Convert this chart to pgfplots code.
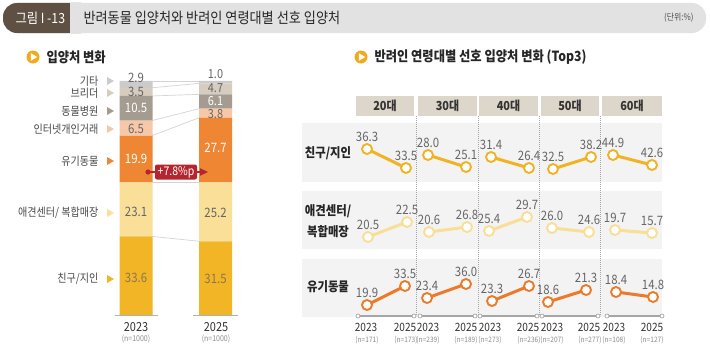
\documentclass[border=0pt]{standalone}
\usepackage{pgfplots}
\pgfplotsset{compat=1.18}
\usepackage{fontspec}
\setmainfont{Noto Sans CJK KR}[FakeStretch=0.88]
\usetikzlibrary{arrows.meta}
\pgfkeys{/pgf/number format/assume math mode=true}

\definecolor{cFriend}{HTML}{F2B526}
\definecolor{cCenter}{HTML}{F9DF98}
\definecolor{cStray}{HTML}{EE8633}
\definecolor{cNet}{HTML}{F7C8A7}
\definecolor{cHosp}{HTML}{A59C91}
\definecolor{cBreed}{HTML}{D6CDBE}
\definecolor{cEtc}{HTML}{CBCBCB}
\definecolor{lF}{HTML}{F0B323}
\definecolor{lC}{HTML}{F9DE96}
\definecolor{lS}{HTML}{EB7B2B}
\definecolor{hdrDark}{HTML}{5E5043}
\definecolor{hdrLight}{HTML}{E2E2E2}
\definecolor{colHead}{HTML}{DDD6CA}
\definecolor{band}{HTML}{F3F3F3}
\definecolor{badge}{HTML}{B52530}
\definecolor{iconc}{HTML}{F1A91D}
\definecolor{txt}{HTML}{4A4A4A}
\definecolor{numc}{HTML}{666666}
\definecolor{goldtxt}{HTML}{8C7650}
\definecolor{connc}{HTML}{D4D4D4}

\newcommand\fs[1]{\fontsize{#1}{#1}\selectfont}

\pgfplotsset{cellax/.style={scale only axis, axis lines=none, xmin=0, xmax=1,
  clip=false, enlargelimits=false, ticks=none},
  barax/.style={at={(96.25bp,39bp)}, anchor=south west, scale only axis, width=159bp, height=234bp,
  xmin=-0.5, xmax=1.5, ymin=0, ymax=100, axis lines=none, clip=false, ticks=none}}

\newcommand{\cellplot}[8]{%
 \pgfmathsetmacro\cmin{min(#7,#8)}\pgfmathsetmacro\cmax{max(#7,#8)}%
 \begin{axis}[cellax, at={(#1bp,#2bp)}, anchor=#5, width=#3bp, height=#4bp,
   ymin=\cmin, ymax=\cmax]
 \addplot[#6, line width=3bp, mark=*, mark size=5bp,
   mark options={fill=white, draw=#6, line width=1.9bp},
   nodes near coords={\pgfmathprintnumber[fixed,fixed zerofill,precision=1]{\pgfplotspointmeta}},
   nodes near coords align=vertical,
   every node near coord/.append style={font=\fs{13}, text=numc, yshift=6bp, inner sep=0.5bp}]
   coordinates {(0,#7) (1,#8)};
 \end{axis}}

\begin{document}
\begin{tikzpicture}[x=1bp,y=1bp]
\useasboundingbox (0,0) rectangle (710,354);
\fill[white] (0,0) rectangle (710,354);

% header
\fill[hdrLight, rounded corners=14bp] (3,321) rectangle (706,351);
\fill[hdrDark, rounded corners=14bp] (3,321) rectangle (95,351);
\fill[hdrLight] (70,321) rectangle (95,351);
\node[anchor=west, text=white, font=\fs{14}] at (12,336) {그림 I -13};
\node[anchor=west, text=black!85, font=\fs{15}] at (80,336) {반려동물 입양처와 반려인 연령대별 선호 입양처};
\node[anchor=east, text=black!70, font=\fs{9}] at (697,336) {(단위:\%)};

% section headings
\fill[iconc] (33,297) circle (6.5);
\fill[white] (30.8,300.8)--(30.8,293.2)--(37.2,297)--cycle;
\node[anchor=west, font=\bfseries\fs{14}, text=black!85] at (43,297) {입양처 변화};
\fill[iconc] (361,297) circle (6.5);
\fill[white] (358.8,300.8)--(358.8,293.2)--(365.2,297)--cycle;
\node[anchor=west, font=\bfseries\fs{14}, text=black!85] at (371,297) {반려인 연령대별 선호 입양처 변화 (Top3)};

% left category labels
\node[anchor=east, font=\fs{11.5}, text=txt] at (102,273) {기타};
\fill[cEtc] (107,277)--(107,269)--(114,273)--cycle;
\node[anchor=east, font=\fs{11.5}, text=txt] at (102,261) {브리더};
\fill[cBreed] (107,265)--(107,257)--(114,261)--cycle;
\node[anchor=east, font=\fs{11.5}, text=txt] at (102,243) {동물병원};
\fill[cHosp] (107,247)--(107,239)--(114,243)--cycle;
\node[anchor=east, font=\fs{11.5}, text=txt] at (102,225) {인터넷개인거래};
\fill[cNet] (107,229)--(107,221)--(114,225)--cycle;
\node[anchor=east, font=\fs{11.5}, text=txt] at (102,193) {유기동물};
\fill[cStray] (107,197)--(107,189)--(114,193)--cycle;
\node[anchor=east, font=\fs{11.5}, text=txt] at (102,141) {애견센터/ 복합매장};
\fill[cCenter] (107,145)--(107,137)--(114,141)--cycle;
\node[anchor=east, font=\fs{11.5}, text=txt] at (102,75) {친구/지인};
\fill[cFriend] (107,79)--(107,71)--(114,75)--cycle;

% connector lines
\begin{axis}[barax]
\addplot[connc, line width=0.7bp] coordinates {(0.2,33.6) (0.8,31.5)};
\addplot[connc, line width=0.7bp] coordinates {(0.2,56.7) (0.8,56.7)};
\addplot[connc, line width=0.7bp] coordinates {(0.2,76.6) (0.8,84.4)};
\addplot[connc, line width=0.7bp] coordinates {(0.2,83.1) (0.8,88.2)};
\addplot[connc, line width=0.7bp] coordinates {(0.2,93.6) (0.8,94.3)};
\addplot[connc, line width=0.7bp] coordinates {(0.2,97.1) (0.8,99.0)};
\addplot[connc, line width=0.7bp] coordinates {(0.2,100) (0.8,100)};
\end{axis}

% stacked bars
\begin{axis}[barax, ybar stacked, bar width=33bp]
\addplot[fill=cFriend, draw=none] coordinates {(0,33.6) (1,31.5)};
\addplot[fill=cCenter, draw=none] coordinates {(0,23.1) (1,25.2)};
\addplot[fill=cStray, draw=none] coordinates {(0,19.9) (1,27.7)};
\addplot[fill=cNet, draw=none] coordinates {(0,6.5) (1,3.8)};
\addplot[fill=cHosp, draw=none] coordinates {(0,10.5) (1,6.1)};
\addplot[fill=cBreed, draw=none] coordinates {(0,3.5) (1,4.7)};
\addplot[fill=cEtc, draw=none] coordinates {(0,2.9) (1,1.0)};
\end{axis}

% labels and badge
\begin{axis}[barax]
\node[text=numc, font=\fs{13}, inner sep=0pt] at (axis cs:0,101.5) {2.9};
\node[text=numc, font=\fs{13}, inner sep=0pt] at (axis cs:0,95.3) {3.5};
\node[text=white, font=\fs{13}, inner sep=0pt] at (axis cs:0,88.5) {10.5};
\node[text=numc, font=\fs{13}, inner sep=0pt] at (axis cs:0,79.5) {6.5};
\node[text=white, font=\fs{13}, inner sep=0pt] at (axis cs:0,66.7) {19.9};
\node[text=numc, font=\fs{13}, inner sep=0pt] at (axis cs:0,44) {23.1};
\node[text=goldtxt, font=\fs{13}, inner sep=0pt] at (axis cs:0,15.8) {33.6};
\node[text=numc, font=\fs{12.5}, inner sep=0pt] at (axis cs:1,102.8) {1.0};
\node[text=numc, font=\fs{12.5}, inner sep=0pt] at (axis cs:1,96.9) {4.7};
\node[text=white, font=\fs{12.5}, inner sep=0pt] at (axis cs:1,91.3) {6.1};
\node[text=numc, font=\fs{12.5}, inner sep=0pt] at (axis cs:1,86.0) {3.8};
\node[text=white, font=\fs{13}, inner sep=0pt] at (axis cs:1,71.4) {27.7};
\node[text=numc, font=\fs{13}, inner sep=0pt] at (axis cs:1,43.6) {25.2};
\node[text=goldtxt, font=\fs{13}, inner sep=0pt] at (axis cs:1,15.4) {31.5};
\draw[badge, line width=1.2bp] (axis cs:0.151,61.1) -- (axis cs:0.85,61.1);
\fill[badge] (axis cs:0.151,61.1) circle (2.6bp);
\end{axis}
\fill[badge] (200,178.2)--(200,185.8)--(208,182)--cycle;
\node[fill=badge, rounded corners=2bp, text=white, minimum width=42bp, minimum height=15bp,
  inner sep=1bp, font=\fs{12}] at (176,182) {+7.8\%p};

\draw[black!30, line width=0.8bp] (115,39)--(158,39);
\draw[black!30, line width=0.8bp] (193,39)--(238,39);
\node[font=\fs{12.5}, text=black!80] at (136,27) {2023};
\node[font=\fs{8}, text=black!45] at (136,15) {(n=1000)};
\node[font=\fs{12.5}, text=black!80] at (216,27) {2025};
\node[font=\fs{8}, text=black!45] at (216,15) {(n=1000)};

% right panel: column headers
\foreach \xa/\xb/\lab in {356/414/20대, 418/477/30대, 479/538/40대, 541/599/50대, 602/662/60대}{
  \fill[colHead] (\xa,238) rectangle (\xb,258);
  \node[font=\bfseries\fs{12.5}, text=black!80] at ({(\xa+\xb)/2},248) {\lab};
}
% row bands
\fill[band] (302,172) rectangle (662,231);
\fill[band] (302,105) rectangle (662,163);
\fill[band] (302,37) rectangle (662,95);
% dotted dividers
\foreach \xx in {416,478,539.5,600.5}{
  \draw[black!35, line width=0.6bp, dash pattern=on 1bp off 1bp] (\xx,238)--(\xx,38);
}
% row labels
\node[font=\bfseries\fs{13}, text=black!85] at (328,201) {친구/지인};
\node[font=\bfseries\fs{13}, text=black!85] at (328,143) {애견센터/};
\node[font=\bfseries\fs{13}, text=black!85] at (328,122) {복합매장};
\node[font=\bfseries\fs{13}, text=black!85] at (328,67) {유기동물};

% bottom axis
\foreach \xa/\xb in {358/414, 420/475, 480/537, 542/598, 607/662}{
  \draw[black!35, line width=1.2bp] (\xa,38)--(\xb,38);
  \draw[black!40, fill=white, line width=0.6bp] (\xa,38) circle (2bp);
  \draw[black!40, fill=white, line width=0.6bp] (\xb,38) circle (2bp);
}
\foreach \xx/\nn in {367/171, 406/173, 428/239, 466/189, 490/273, 529/236, 552/207, 590/277, 614/108, 652/127}{
  \node[font=\fs{7.5}, text=black!45, inner sep=0pt] at (\xx,14) {(n=\nn)};
}
\foreach \xx in {366,428,490,552,614}{\node[font=\fs{11.5}, text=black!80, inner sep=0pt] at (\xx,27) {2023};}
\foreach \xx in {405,466,528,589,652}{\node[font=\fs{11.5}, text=black!80, inner sep=0pt] at (\xx,27) {2025};}

% line cells
\cellplot{367}{205}{39}{19}{north west}{lF}{36.3}{33.5}
\cellplot{428}{199}{38}{12}{north west}{lF}{28.0}{25.1}
\cellplot{491}{197}{38}{11}{north west}{lF}{31.4}{26.4}
\cellplot{553}{185}{38}{12}{south west}{lF}{32.5}{38.2}
\cellplot{613}{199}{39}{10}{north west}{lF}{44.9}{42.6}
\cellplot{368}{117}{39}{15}{south west}{lC}{20.5}{22.5}
\cellplot{429}{122}{38}{5}{south west}{lC}{20.6}{26.8}
\cellplot{489}{123}{38}{14}{south west}{lC}{25.4}{29.7}
\cellplot{552}{126}{37}{4}{north west}{lC}{26.0}{24.6}
\cellplot{615}{124}{37}{3}{north west}{lC}{19.7}{15.7}
\cellplot{367}{49}{38}{19}{south west}{lS}{19.9}{33.5}
\cellplot{427}{56}{39}{14}{south west}{lS}{23.4}{36.0}
\cellplot{492}{53}{37}{15}{south west}{lS}{23.3}{26.7}
\cellplot{548}{52}{38}{12}{south west}{lS}{18.6}{21.3}
\cellplot{616}{62}{37}{5}{north west}{lS}{18.4}{14.8}
\end{tikzpicture}
\end{document}
